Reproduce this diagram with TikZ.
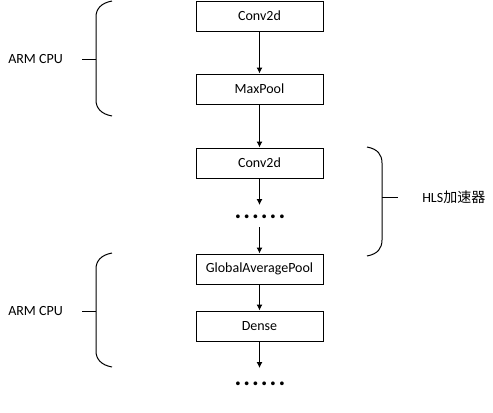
\documentclass[tikz,border=0pt]{standalone}
\usepackage{fontspec}
\setmainfont{Carlito}
\newfontfamily\cjk{Noto Sans CJK SC}
\usetikzlibrary{arrows.meta}
\newcommand\sixdots{{\fontsize{19}{19}\selectfont\bfseries .\kern1.5pt.\kern1.5pt.\kern1.5pt.\kern1.5pt.\kern1.5pt.}}

\begin{document}
\begin{tikzpicture}[x=0.75pt,y=-0.75pt,
    layer/.style={draw,line width=0.75pt,minimum width=95.25pt,minimum height=22.5pt,
      inner sep=0pt,font=\fontsize{10.5}{12}\selectfont},
    flow/.style={line width=0.75pt,-{Latex[length=4.5pt,width=4.5pt]}},
    brace/.style={line width=0.75pt},
    side/.style={anchor=west,inner sep=0pt,font=\fontsize{10.5}{12}\selectfont}]
  \useasboundingbox (0,0) rectangle (493,412);
  % layers
  \node[layer] (conv1) at (259.5,16) {Conv2d};
  \node[layer] (pool) at (259.5,89) {MaxPool};
  \node[layer] (conv2) at (259.5,163) {Conv2d};
  \node[inner sep=0pt] (dots1) at (260,217) {\sixdots};
  \node[layer] (gap) at (259.5,269) {GlobalAveragePool};
  \node[layer] (dense) at (259.5,326) {Dense};
  \node[inner sep=0pt] (dots2) at (260,384) {\sixdots};
  \coordinate (in1) at (259.5,205);
  \coordinate (out1) at (259.5,227);
  \coordinate (in2) at (259.5,368);
  % arrows
  \draw[flow] (conv1) -- (pool);
  \draw[flow] (pool) -- (conv2);
  \draw[flow] (conv2) -- (in1);
  \draw[flow] (out1) -- (gap);
  \draw[flow] (gap) -- (dense);
  \draw[flow] (dense) -- (in2);
  % braces
  \begin{scope}[shift={(96,59)}]
    \draw[brace] (16,-58) .. controls (5,-56) and (0,-50) .. (0,-42) -- (0,41)
      .. controls (0,49) and (5,55) .. (16,57);
    \draw[brace] (0,0) -- (-14,0);
  \end{scope}
  \node[side] (cpu1) at (8,59) {ARM CPU};
  \begin{scope}[shift={(382,197)}]
    \draw[brace] (-15,-50) .. controls (-4,-48) and (0,-42) .. (0,-34) -- (0,43)
      .. controls (0,51) and (-4,57) .. (-15,59);
    \draw[brace] (0,0) -- (16,0);
  \end{scope}
  \node[side] (hls) at (422,197) {HLS{\cjk 加速器}};
  \begin{scope}[shift={(96,311)}]
    \draw[brace] (16,-58) .. controls (5,-56) and (0,-50) .. (0,-42) -- (0,40)
      .. controls (0,48) and (5,54) .. (16,56);
    \draw[brace] (0,0) -- (-14,0);
  \end{scope}
  \node[side] (cpu2) at (8,311) {ARM CPU};
\end{tikzpicture}
\end{document}
